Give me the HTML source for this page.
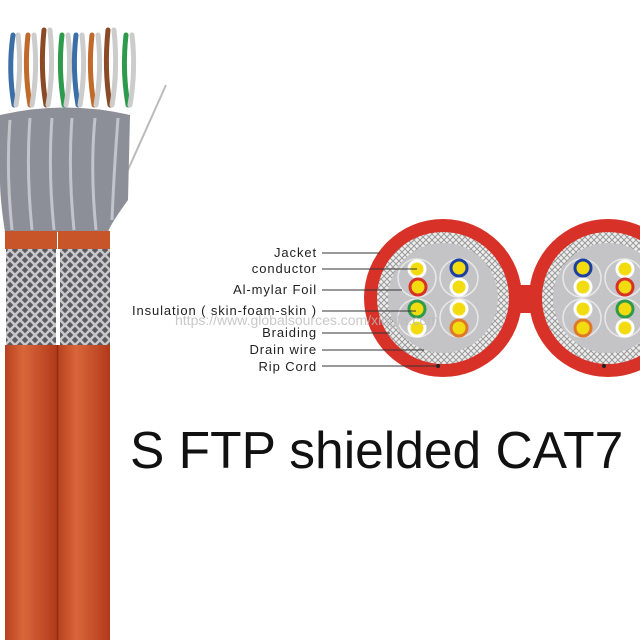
<!DOCTYPE html>
<html><head><style>
html,body{margin:0;padding:0;background:#fff;}
svg{display:block;}
text{font-family:"Liberation Sans",sans-serif;}
</style></head><body>
<svg width="640" height="640" viewBox="0 0 640 640" xmlns="http://www.w3.org/2000/svg">
<defs>
<pattern id="braid" width="10" height="10" patternUnits="userSpaceOnUse">
<rect width="10" height="10" fill="#5a5a60"/>
<path d="M0 0L10 10M10 0L0 10" stroke="#c8c8cc" stroke-width="2.5"/>
</pattern>
<pattern id="rb" width="6" height="6" patternUnits="userSpaceOnUse">
<rect width="6" height="6" fill="#eeeeee"/>
<path d="M0 0L6 6M6 0L0 6" stroke="#999" stroke-width="1"/>
</pattern>
<linearGradient id="jk" x1="0" x2="1">
<stop offset="0" stop-color="#b8401f"/><stop offset="0.35" stop-color="#d8663a"/><stop offset="1" stop-color="#b23a1b"/>
</linearGradient>
</defs>
<g stroke-width="5" fill="none" stroke-linecap="round">
<path d="M13 35 Q8 70 14 105" stroke="#3c6fa8"/><path d="M18 35 Q22 70 16 105" stroke="#ccc"/>
<path d="M28 35 Q24 70 30 105" stroke="#c06a2c"/><path d="M34 35 Q38 70 32 105" stroke="#ccc"/>
<path d="M44 30 Q40 70 46 105" stroke="#8a4a26"/><path d="M50 30 Q54 70 48 105" stroke="#ccc"/>
<path d="M62 35 Q58 70 64 105" stroke="#2e9a4c"/><path d="M68 35 Q72 70 66 105" stroke="#ccc"/>
<path d="M76 35 Q72 70 78 105" stroke="#3c6fa8"/><path d="M82 35 Q86 70 80 105" stroke="#ccc"/>
<path d="M92 35 Q88 70 94 105" stroke="#c06a2c"/><path d="M98 35 Q102 70 96 105" stroke="#ccc"/>
<path d="M108 30 Q104 70 110 105" stroke="#8a4a26"/><path d="M114 30 Q118 70 112 105" stroke="#ccc"/>
<path d="M126 35 Q122 70 128 105" stroke="#2e9a4c"/><path d="M132 35 Q136 70 130 105" stroke="#ccc"/>
</g>
<line x1="166" y1="85" x2="110" y2="210" stroke="#bbb" stroke-width="2"/>
<path d="M0 115 Q65 100 130 115 L128 200 Q110 225 108 232 L5 232 Q0 200 0 180Z" fill="#8d8f98"/>
<g stroke="#c2c4cc" stroke-width="3" fill="none">
<path d="M10 120 Q6 170 12 230"/><path d="M30 118 Q26 170 32 230"/><path d="M52 118 Q48 170 54 230"/>
<path d="M72 118 Q68 170 74 230"/><path d="M95 118 Q90 170 96 230"/><path d="M118 118 Q114 170 112 220"/>
</g>
<rect x="6" y="248" width="50" height="100" fill="url(#braid)"/>
<rect x="60" y="248" width="50" height="100" fill="url(#braid)"/>
<rect x="5" y="231" width="52" height="18" fill="#c8542a"/>
<rect x="58" y="231" width="52" height="18" fill="#c8542a"/>
<rect x="5" y="345" width="52" height="295" fill="url(#jk)"/>
<rect x="58" y="345" width="52" height="295" fill="url(#jk)"/>
<line x1="57.5" y1="345" x2="57.5" y2="640" stroke="#8e2c12" stroke-width="1.5"/>

<rect x="500" y="285" width="50" height="28" fill="#d83228"/>
<circle cx="443" cy="298" r="79" fill="#d83228"/>
<circle cx="608" cy="298" r="79" fill="#d83228"/>
<circle cx="443" cy="298" r="66" fill="url(#rb)"/>
<circle cx="608" cy="298" r="66" fill="url(#rb)"/>
<circle cx="443" cy="298" r="55" fill="#c4c4c6"/>
<circle cx="608" cy="298" r="55" fill="#c4c4c6"/>
<g fill="none" stroke="#e8e8e8" stroke-width="1.5">
<circle cx="417" cy="278" r="19"/><circle cx="459" cy="278" r="19"/><circle cx="417" cy="318" r="19"/><circle cx="459" cy="318" r="19"/>
<circle cx="582" cy="278" r="19"/><circle cx="624" cy="278" r="19"/><circle cx="582" cy="318" r="19"/><circle cx="624" cy="318" r="19"/>
</g>
<g stroke-width="3">
<circle cx="417" cy="269" r="8" fill="#f2dc10" stroke="#fff"/>
<circle cx="418" cy="287" r="8" fill="#f2dc10" stroke="#d83228"/>
<circle cx="417" cy="309" r="8" fill="#f2dc10" stroke="#2e9a4c"/>
<circle cx="417" cy="328" r="8" fill="#f2dc10" stroke="#fff"/>
<circle cx="459" cy="268" r="8" fill="#f2dc10" stroke="#1c3fa0"/>
<circle cx="459" cy="287" r="8" fill="#f2dc10" stroke="#fff"/>
<circle cx="459" cy="309" r="8" fill="#f2dc10" stroke="#fff"/>
<circle cx="459" cy="328" r="8" fill="#f2dc10" stroke="#e0782a"/>
<circle cx="583" cy="268" r="8" fill="#f2dc10" stroke="#1c3fa0"/>
<circle cx="583" cy="287" r="8" fill="#f2dc10" stroke="#fff"/>
<circle cx="583" cy="309" r="8" fill="#f2dc10" stroke="#fff"/>
<circle cx="583" cy="328" r="8" fill="#f2dc10" stroke="#e0782a"/>
<circle cx="625" cy="269" r="8" fill="#f2dc10" stroke="#fff"/>
<circle cx="625" cy="287" r="8" fill="#f2dc10" stroke="#d83228"/>
<circle cx="625" cy="309" r="8" fill="#f2dc10" stroke="#2e9a4c"/>
<circle cx="625" cy="328" r="8" fill="#f2dc10" stroke="#fff"/>
</g>
<circle cx="438" cy="366" r="2" fill="#222"/><circle cx="604" cy="366" r="2" fill="#222"/>
<g stroke="#333" stroke-width="1">
<line x1="322" y1="253" x2="380" y2="253"/>
<line x1="322" y1="269" x2="417" y2="269"/>
<line x1="322" y1="290" x2="402" y2="290"/>
<line x1="322" y1="311" x2="416" y2="311"/>
<line x1="322" y1="333" x2="390" y2="333"/>
<line x1="322" y1="350" x2="424" y2="350"/>
<line x1="322" y1="366" x2="438" y2="366"/>
</g>
<g font-size="13" fill="#222" text-anchor="end" letter-spacing="0.9">
<text x="317" y="257">Jacket</text>
<text x="317" y="273">conductor</text>
<text x="317" y="294">Al-mylar Foil</text>
<text x="317" y="315">Insulation ( skin-foam-skin )</text>
<text x="317" y="337">Braiding</text>
<text x="317" y="354">Drain wire</text>
<text x="317" y="371">Rip Cord</text>
</g>
<text x="175" y="325" font-size="14" fill="#bbb" fill-opacity="0.8">https://www.globalsources.com/xingfa.com</text>
<text x="130" y="468" font-size="51.5" fill="#111">S FTP shielded CAT7</text>
</svg>
</body></html>
